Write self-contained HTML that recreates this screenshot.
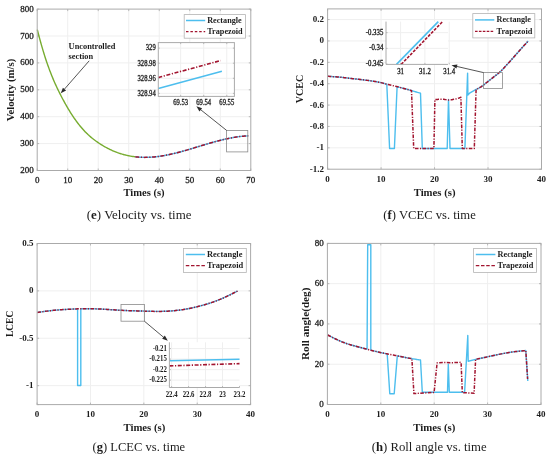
<!DOCTYPE html>
<html><head><meta charset="utf-8"><style>
html,body{margin:0;padding:0;background:#ffffff;}
svg{display:block;font-family:"Liberation Serif",serif;filter:blur(0.35px);}
</style></head><body>
<svg width="550" height="457" viewBox="0 0 550 457">
<rect x="0" y="0" width="550" height="457" fill="#ffffff"/>
<line x1="67.71" y1="9.1" x2="67.71" y2="170.5" stroke="#efefef" stroke-width="1" />
<line x1="98.23" y1="9.1" x2="98.23" y2="170.5" stroke="#efefef" stroke-width="1" />
<line x1="128.74" y1="9.1" x2="128.74" y2="170.5" stroke="#efefef" stroke-width="1" />
<line x1="159.26" y1="9.1" x2="159.26" y2="170.5" stroke="#efefef" stroke-width="1" />
<line x1="189.77" y1="9.1" x2="189.77" y2="170.5" stroke="#efefef" stroke-width="1" />
<line x1="220.29" y1="9.1" x2="220.29" y2="170.5" stroke="#efefef" stroke-width="1" />
<line x1="37.2" y1="143.6" x2="250.8" y2="143.6" stroke="#efefef" stroke-width="1" />
<line x1="37.2" y1="116.7" x2="250.8" y2="116.7" stroke="#efefef" stroke-width="1" />
<line x1="37.2" y1="89.8" x2="250.8" y2="89.8" stroke="#efefef" stroke-width="1" />
<line x1="37.2" y1="62.9" x2="250.8" y2="62.9" stroke="#efefef" stroke-width="1" />
<line x1="37.2" y1="36" x2="250.8" y2="36" stroke="#efefef" stroke-width="1" />
<line x1="37.2" y1="170.5" x2="37.2" y2="168.5" stroke="#aaaaaa" stroke-width="0.8" />
<line x1="37.2" y1="9.1" x2="37.2" y2="11.1" stroke="#aaaaaa" stroke-width="0.8" />
<line x1="67.71" y1="170.5" x2="67.71" y2="168.5" stroke="#aaaaaa" stroke-width="0.8" />
<line x1="67.71" y1="9.1" x2="67.71" y2="11.1" stroke="#aaaaaa" stroke-width="0.8" />
<line x1="98.23" y1="170.5" x2="98.23" y2="168.5" stroke="#aaaaaa" stroke-width="0.8" />
<line x1="98.23" y1="9.1" x2="98.23" y2="11.1" stroke="#aaaaaa" stroke-width="0.8" />
<line x1="128.74" y1="170.5" x2="128.74" y2="168.5" stroke="#aaaaaa" stroke-width="0.8" />
<line x1="128.74" y1="9.1" x2="128.74" y2="11.1" stroke="#aaaaaa" stroke-width="0.8" />
<line x1="159.26" y1="170.5" x2="159.26" y2="168.5" stroke="#aaaaaa" stroke-width="0.8" />
<line x1="159.26" y1="9.1" x2="159.26" y2="11.1" stroke="#aaaaaa" stroke-width="0.8" />
<line x1="189.77" y1="170.5" x2="189.77" y2="168.5" stroke="#aaaaaa" stroke-width="0.8" />
<line x1="189.77" y1="9.1" x2="189.77" y2="11.1" stroke="#aaaaaa" stroke-width="0.8" />
<line x1="220.29" y1="170.5" x2="220.29" y2="168.5" stroke="#aaaaaa" stroke-width="0.8" />
<line x1="220.29" y1="9.1" x2="220.29" y2="11.1" stroke="#aaaaaa" stroke-width="0.8" />
<line x1="250.8" y1="170.5" x2="250.8" y2="168.5" stroke="#aaaaaa" stroke-width="0.8" />
<line x1="250.8" y1="9.1" x2="250.8" y2="11.1" stroke="#aaaaaa" stroke-width="0.8" />
<line x1="37.2" y1="170.5" x2="39.2" y2="170.5" stroke="#aaaaaa" stroke-width="0.8" />
<line x1="250.8" y1="170.5" x2="248.8" y2="170.5" stroke="#aaaaaa" stroke-width="0.8" />
<line x1="37.2" y1="143.6" x2="39.2" y2="143.6" stroke="#aaaaaa" stroke-width="0.8" />
<line x1="250.8" y1="143.6" x2="248.8" y2="143.6" stroke="#aaaaaa" stroke-width="0.8" />
<line x1="37.2" y1="116.7" x2="39.2" y2="116.7" stroke="#aaaaaa" stroke-width="0.8" />
<line x1="250.8" y1="116.7" x2="248.8" y2="116.7" stroke="#aaaaaa" stroke-width="0.8" />
<line x1="37.2" y1="89.8" x2="39.2" y2="89.8" stroke="#aaaaaa" stroke-width="0.8" />
<line x1="250.8" y1="89.8" x2="248.8" y2="89.8" stroke="#aaaaaa" stroke-width="0.8" />
<line x1="37.2" y1="62.9" x2="39.2" y2="62.9" stroke="#aaaaaa" stroke-width="0.8" />
<line x1="250.8" y1="62.9" x2="248.8" y2="62.9" stroke="#aaaaaa" stroke-width="0.8" />
<line x1="37.2" y1="36" x2="39.2" y2="36" stroke="#aaaaaa" stroke-width="0.8" />
<line x1="250.8" y1="36" x2="248.8" y2="36" stroke="#aaaaaa" stroke-width="0.8" />
<line x1="37.2" y1="9.1" x2="39.2" y2="9.1" stroke="#aaaaaa" stroke-width="0.8" />
<line x1="250.8" y1="9.1" x2="248.8" y2="9.1" stroke="#aaaaaa" stroke-width="0.8" />
<text x="37.2" y="182.7" font-size="9" text-anchor="middle" font-weight="normal" fill="#1c1c1c" stroke="#1c1c1c" stroke-width="0.3">0</text>
<text x="67.71" y="182.7" font-size="9" text-anchor="middle" font-weight="normal" fill="#1c1c1c" stroke="#1c1c1c" stroke-width="0.3">10</text>
<text x="98.23" y="182.7" font-size="9" text-anchor="middle" font-weight="normal" fill="#1c1c1c" stroke="#1c1c1c" stroke-width="0.3">20</text>
<text x="128.74" y="182.7" font-size="9" text-anchor="middle" font-weight="normal" fill="#1c1c1c" stroke="#1c1c1c" stroke-width="0.3">30</text>
<text x="159.26" y="182.7" font-size="9" text-anchor="middle" font-weight="normal" fill="#1c1c1c" stroke="#1c1c1c" stroke-width="0.3">40</text>
<text x="189.77" y="182.7" font-size="9" text-anchor="middle" font-weight="normal" fill="#1c1c1c" stroke="#1c1c1c" stroke-width="0.3">50</text>
<text x="220.29" y="182.7" font-size="9" text-anchor="middle" font-weight="normal" fill="#1c1c1c" stroke="#1c1c1c" stroke-width="0.3">60</text>
<text x="250.8" y="182.7" font-size="9" text-anchor="middle" font-weight="normal" fill="#1c1c1c" stroke="#1c1c1c" stroke-width="0.3">70</text>
<text x="33.7" y="173" font-size="9" text-anchor="end" font-weight="normal" fill="#1c1c1c" stroke="#1c1c1c" stroke-width="0.3">200</text>
<text x="33.7" y="146.1" font-size="9" text-anchor="end" font-weight="normal" fill="#1c1c1c" stroke="#1c1c1c" stroke-width="0.3">300</text>
<text x="33.7" y="119.2" font-size="9" text-anchor="end" font-weight="normal" fill="#1c1c1c" stroke="#1c1c1c" stroke-width="0.3">400</text>
<text x="33.7" y="92.3" font-size="9" text-anchor="end" font-weight="normal" fill="#1c1c1c" stroke="#1c1c1c" stroke-width="0.3">500</text>
<text x="33.7" y="65.4" font-size="9" text-anchor="end" font-weight="normal" fill="#1c1c1c" stroke="#1c1c1c" stroke-width="0.3">600</text>
<text x="33.7" y="38.5" font-size="9" text-anchor="end" font-weight="normal" fill="#1c1c1c" stroke="#1c1c1c" stroke-width="0.3">700</text>
<text x="33.7" y="11.6" font-size="9" text-anchor="end" font-weight="normal" fill="#1c1c1c" stroke="#1c1c1c" stroke-width="0.3">800</text>
<polyline points="37.3,29.7 37.96,32.26 38.62,34.78 39.27,37.25 39.93,39.67 40.59,42.05 41.25,44.38 41.9,46.67 42.56,48.92 43.22,51.11 43.88,53.27 44.53,55.37 45.19,57.44 45.85,59.45 46.51,61.43 47.17,63.36 47.82,65.24 48.48,67.08 49.14,68.88 49.8,70.64 50.45,72.36 51.11,74.04 51.77,75.69 52.43,77.3 53.09,78.88 53.74,80.43 54.4,81.94 55.06,83.43 55.72,84.89 56.37,86.32 57.03,87.73 57.69,89.11 58.35,90.47 59,91.81 59.66,93.13 60.32,94.43 60.98,95.72 61.64,96.99 62.29,98.24 62.95,99.48 63.61,100.7 64.27,101.91 64.92,103.09 65.58,104.27 66.24,105.43 66.9,106.57 67.56,107.69 68.21,108.8 68.87,109.89 69.53,110.97 70.19,112.03 70.84,113.07 71.5,114.1 72.16,115.11 72.82,116.11 73.47,117.09 74.13,118.05 74.79,119 75.45,119.93 76.11,120.84 76.76,121.74 77.42,122.62 78.08,123.48 78.74,124.33 79.39,125.16 80.05,125.98 80.71,126.77 81.37,127.56 82.02,128.32 82.68,129.07 83.34,129.8 84,130.52 84.66,131.22 85.31,131.9 85.97,132.57 86.63,133.22 87.29,133.86 87.94,134.49 88.6,135.1 89.26,135.69 89.92,136.28 90.58,136.85 91.23,137.41 91.89,137.95 92.55,138.49 93.21,139.01 93.86,139.52 94.52,140.03 95.18,140.52 95.84,141 96.49,141.47 97.15,141.94 97.81,142.39 98.47,142.84 99.13,143.28 99.78,143.71 100.44,144.14 101.1,144.55 101.76,144.96 102.41,145.36 103.07,145.76 103.73,146.15 104.39,146.52 105.04,146.9 105.7,147.26 106.36,147.62 107.02,147.97 107.68,148.31 108.33,148.65 108.99,148.98 109.65,149.3 110.31,149.62 110.96,149.93 111.62,150.23 112.28,150.52 112.94,150.81 113.6,151.09 114.25,151.36 114.91,151.63 115.57,151.89 116.23,152.15 116.88,152.39 117.54,152.64 118.2,152.87 118.86,153.1 119.51,153.32 120.17,153.54 120.83,153.74 121.49,153.95 122.15,154.14 122.8,154.33 123.46,154.52 124.12,154.7 124.78,154.87 125.43,155.03 126.09,155.19 126.75,155.35 127.41,155.49 128.07,155.64 128.72,155.77 129.38,155.9 130.04,156.03 130.7,156.14 131.35,156.26 132.01,156.36 132.67,156.47 133.33,156.56 133.98,156.65 134.64,156.74 135.3,156.82" fill="none" stroke="#77AC30" stroke-width="1.4" stroke-linejoin="round" />
<polyline points="135.3,156.82 136.25,156.92 137.2,157.01 138.15,157.1 139.1,157.17 140.05,157.23 141,157.28 141.95,157.32 142.9,157.35 143.85,157.37 144.8,157.38 145.75,157.37 146.69,157.36 147.64,157.34 148.59,157.31 149.54,157.27 150.49,157.22 151.44,157.16 152.39,157.09 153.34,157.01 154.29,156.93 155.24,156.83 156.19,156.73 157.14,156.62 158.09,156.5 159.04,156.37 159.99,156.24 160.94,156.1 161.89,155.95 162.84,155.79 163.79,155.63 164.74,155.46 165.69,155.28 166.64,155.1 167.59,154.91 168.54,154.72 169.48,154.52 170.43,154.31 171.38,154.1 172.33,153.88 173.28,153.66 174.23,153.43 175.18,153.2 176.13,152.97 177.08,152.73 178.03,152.48 178.98,152.24 179.93,151.98 180.88,151.73 181.83,151.47 182.78,151.21 183.73,150.94 184.68,150.68 185.63,150.41 186.58,150.13 187.53,149.86 188.48,149.58 189.43,149.3 190.38,149.02 191.33,148.74 192.27,148.45 193.22,148.17 194.17,147.88 195.12,147.59 196.07,147.31 197.02,147.02 197.97,146.73 198.92,146.44 199.87,146.15 200.82,145.87 201.77,145.58 202.72,145.29 203.67,145.01 204.62,144.72 205.57,144.44 206.52,144.15 207.47,143.87 208.42,143.59 209.37,143.32 210.32,143.04 211.27,142.77 212.22,142.5 213.17,142.23 214.12,141.96 215.06,141.7 216.01,141.44 216.96,141.19 217.91,140.94 218.86,140.69 219.81,140.44 220.76,140.2 221.71,139.97 222.66,139.74 223.61,139.51 224.56,139.29 225.51,139.07 226.46,138.86 227.41,138.65 228.36,138.45 229.31,138.26 230.26,138.07 231.21,137.89 232.16,137.71 233.11,137.54 234.06,137.38 235.01,137.22 235.96,137.07 236.91,136.93 237.85,136.79 238.8,136.67 239.75,136.55 240.7,136.43 241.65,136.33 242.6,136.24 243.55,136.15 244.5,136.07 245.45,136 246.4,135.94 247.35,135.89 248.3,135.85" fill="none" stroke="#4DBEEE" stroke-width="1.4" stroke-linejoin="round" />
<polyline points="135.3,156.82 136.25,156.92 137.2,157.01 138.15,157.1 139.1,157.17 140.05,157.23 141,157.28 141.95,157.32 142.9,157.35 143.85,157.37 144.8,157.38 145.75,157.37 146.69,157.36 147.64,157.34 148.59,157.31 149.54,157.27 150.49,157.22 151.44,157.16 152.39,157.09 153.34,157.01 154.29,156.93 155.24,156.83 156.19,156.73 157.14,156.62 158.09,156.5 159.04,156.37 159.99,156.24 160.94,156.1 161.89,155.95 162.84,155.79 163.79,155.63 164.74,155.46 165.69,155.28 166.64,155.1 167.59,154.91 168.54,154.72 169.48,154.52 170.43,154.31 171.38,154.1 172.33,153.88 173.28,153.66 174.23,153.43 175.18,153.2 176.13,152.97 177.08,152.73 178.03,152.48 178.98,152.24 179.93,151.98 180.88,151.73 181.83,151.47 182.78,151.21 183.73,150.94 184.68,150.68 185.63,150.41 186.58,150.13 187.53,149.86 188.48,149.58 189.43,149.3 190.38,149.02 191.33,148.74 192.27,148.45 193.22,148.17 194.17,147.88 195.12,147.59 196.07,147.31 197.02,147.02 197.97,146.73 198.92,146.44 199.87,146.15 200.82,145.87 201.77,145.58 202.72,145.29 203.67,145.01 204.62,144.72 205.57,144.44 206.52,144.15 207.47,143.87 208.42,143.59 209.37,143.32 210.32,143.04 211.27,142.77 212.22,142.5 213.17,142.23 214.12,141.96 215.06,141.7 216.01,141.44 216.96,141.19 217.91,140.94 218.86,140.69 219.81,140.44 220.76,140.2 221.71,139.97 222.66,139.74 223.61,139.51 224.56,139.29 225.51,139.07 226.46,138.86 227.41,138.65 228.36,138.45 229.31,138.26 230.26,138.07 231.21,137.89 232.16,137.71 233.11,137.54 234.06,137.38 235.01,137.22 235.96,137.07 236.91,136.93 237.85,136.79 238.8,136.67 239.75,136.55 240.7,136.43 241.65,136.33 242.6,136.24 243.55,136.15 244.5,136.07 245.45,136 246.4,135.94 247.35,135.89 248.3,135.85" fill="none" stroke="#A2142F" stroke-width="1.5" stroke-linejoin="round" stroke-dasharray="4 1.6 1.2 1.6" />
<rect x="37.2" y="9.1" width="213.6" height="161.4" fill="none" stroke="#aaaaaa" stroke-width="1" />
<rect x="226.6" y="130.4" width="21.2" height="21.5" fill="none" stroke="#8a8a8a" stroke-width="0.8" />
<line x1="226.6" y1="130.4" x2="200.39" y2="109.48" stroke="#2a2a2a" stroke-width="0.8" />
<polygon points="196.4,106.3 202.09,108.15 199.47,111.43" fill="#2a2a2a"/>
<text x="68.6" y="49.3" font-size="8.6" text-anchor="start" font-weight="bold" fill="#1c1c1c" textLength="46.8" lengthAdjust="spacingAndGlyphs" >Uncontrolled</text>
<text x="68.6" y="58.9" font-size="8.6" text-anchor="start" font-weight="bold" fill="#1c1c1c" textLength="24.6" lengthAdjust="spacingAndGlyphs" >section</text>
<line x1="89.2" y1="60.8" x2="64.16" y2="89.46" stroke="#2a2a2a" stroke-width="0.8" />
<polygon points="60.8,93.3 62.9,87.7 66.07,90.46" fill="#2a2a2a"/>
<rect x="184.2" y="14.6" width="61.3" height="23.6" fill="#ffffff" stroke="#b4b4b4" stroke-width="0.8" />
<line x1="186" y1="20.5" x2="205.2" y2="20.5" stroke="#4DBEEE" stroke-width="1.5" />
<line x1="186" y1="31.6" x2="205.2" y2="31.6" stroke="#A2142F" stroke-width="1.3" stroke-dasharray="2.5 1.9"/>
<text x="207.2" y="22.8" font-size="9" text-anchor="start" font-weight="bold" fill="#1c1c1c" textLength="34.5" lengthAdjust="spacingAndGlyphs" >Rectangle</text>
<text x="207.2" y="33.9" font-size="9" text-anchor="start" font-weight="bold" fill="#1c1c1c" textLength="35.5" lengthAdjust="spacingAndGlyphs" >Trapezoid</text>
<rect x="158.3" y="42.6" width="76.1" height="53.8" fill="#ffffff"/>
<line x1="180.67" y1="42.6" x2="180.67" y2="96.4" stroke="#efefef" stroke-width="1" />
<line x1="203.73" y1="42.6" x2="203.73" y2="96.4" stroke="#efefef" stroke-width="1" />
<line x1="226.79" y1="42.6" x2="226.79" y2="96.4" stroke="#efefef" stroke-width="1" />
<line x1="158.3" y1="93.38" x2="234.4" y2="93.38" stroke="#efefef" stroke-width="1" />
<line x1="158.3" y1="78.29" x2="234.4" y2="78.29" stroke="#efefef" stroke-width="1" />
<line x1="158.3" y1="63.2" x2="234.4" y2="63.2" stroke="#efefef" stroke-width="1" />
<line x1="158.3" y1="48.11" x2="234.4" y2="48.11" stroke="#efefef" stroke-width="1" />
<line x1="180.67" y1="96.4" x2="180.67" y2="94.9" stroke="#aaaaaa" stroke-width="0.8" />
<line x1="180.67" y1="42.6" x2="180.67" y2="44.1" stroke="#aaaaaa" stroke-width="0.8" />
<line x1="203.73" y1="96.4" x2="203.73" y2="94.9" stroke="#aaaaaa" stroke-width="0.8" />
<line x1="203.73" y1="42.6" x2="203.73" y2="44.1" stroke="#aaaaaa" stroke-width="0.8" />
<line x1="226.79" y1="96.4" x2="226.79" y2="94.9" stroke="#aaaaaa" stroke-width="0.8" />
<line x1="226.79" y1="42.6" x2="226.79" y2="44.1" stroke="#aaaaaa" stroke-width="0.8" />
<line x1="158.3" y1="93.38" x2="159.8" y2="93.38" stroke="#aaaaaa" stroke-width="0.8" />
<line x1="234.4" y1="93.38" x2="232.9" y2="93.38" stroke="#aaaaaa" stroke-width="0.8" />
<line x1="158.3" y1="78.29" x2="159.8" y2="78.29" stroke="#aaaaaa" stroke-width="0.8" />
<line x1="234.4" y1="78.29" x2="232.9" y2="78.29" stroke="#aaaaaa" stroke-width="0.8" />
<line x1="158.3" y1="63.2" x2="159.8" y2="63.2" stroke="#aaaaaa" stroke-width="0.8" />
<line x1="234.4" y1="63.2" x2="232.9" y2="63.2" stroke="#aaaaaa" stroke-width="0.8" />
<line x1="158.3" y1="48.11" x2="159.8" y2="48.11" stroke="#aaaaaa" stroke-width="0.8" />
<line x1="234.4" y1="48.11" x2="232.9" y2="48.11" stroke="#aaaaaa" stroke-width="0.8" />
<text x="180.67" y="104.9" font-size="7.39" text-anchor="middle" font-weight="normal" fill="#1c1c1c" textLength="14.85" lengthAdjust="spacingAndGlyphs" stroke="#1c1c1c" stroke-width="0.3">69.53</text>
<text x="203.73" y="104.9" font-size="7.39" text-anchor="middle" font-weight="normal" fill="#1c1c1c" textLength="14.85" lengthAdjust="spacingAndGlyphs" stroke="#1c1c1c" stroke-width="0.3">69.54</text>
<text x="226.79" y="104.9" font-size="7.39" text-anchor="middle" font-weight="normal" fill="#1c1c1c" textLength="14.85" lengthAdjust="spacingAndGlyphs" stroke="#1c1c1c" stroke-width="0.3">69.55</text>
<text x="155.7" y="95.68" font-size="7.39" text-anchor="end" font-weight="normal" fill="#1c1c1c" textLength="18.15" lengthAdjust="spacingAndGlyphs" stroke="#1c1c1c" stroke-width="0.3">328.94</text>
<text x="155.7" y="80.59" font-size="7.39" text-anchor="end" font-weight="normal" fill="#1c1c1c" textLength="18.15" lengthAdjust="spacingAndGlyphs" stroke="#1c1c1c" stroke-width="0.3">328.96</text>
<text x="155.7" y="65.5" font-size="7.39" text-anchor="end" font-weight="normal" fill="#1c1c1c" textLength="18.15" lengthAdjust="spacingAndGlyphs" stroke="#1c1c1c" stroke-width="0.3">328.98</text>
<text x="155.7" y="50.41" font-size="7.39" text-anchor="end" font-weight="normal" fill="#1c1c1c" textLength="9.9" lengthAdjust="spacingAndGlyphs" stroke="#1c1c1c" stroke-width="0.3">329</text>
<line x1="158.3" y1="88.5" x2="221.9" y2="71.2" stroke="#4DBEEE" stroke-width="1.5" />
<line x1="158.3" y1="77.5" x2="220.6" y2="60.6" stroke="#A2142F" stroke-width="1.6" stroke-dasharray="4 1.6 1.2 1.6"/>
<rect x="158.3" y="42.6" width="76.1" height="53.8" fill="none" stroke="#aaaaaa" stroke-width="1" />
<text x="13.7" y="90" font-size="10.8" text-anchor="middle" font-weight="bold" fill="#1c1c1c" textLength="62.7" lengthAdjust="spacingAndGlyphs" transform="rotate(-90 13.7 90)" >Velocity (m/s)</text>
<text x="144" y="196.3" font-size="10.8" text-anchor="middle" font-weight="bold" fill="#1c1c1c" textLength="41.2" lengthAdjust="spacingAndGlyphs" >Times (s)</text>
<text x="86.8" y="219" font-size="12.5" fill="#1c1c1c" textLength="104.7" lengthAdjust="spacingAndGlyphs">(<tspan font-weight="bold">e</tspan>) Velocity vs. time</text>
<line x1="381.08" y1="8.9" x2="381.08" y2="169.2" stroke="#efefef" stroke-width="1" />
<line x1="434.55" y1="8.9" x2="434.55" y2="169.2" stroke="#efefef" stroke-width="1" />
<line x1="488.02" y1="8.9" x2="488.02" y2="169.2" stroke="#efefef" stroke-width="1" />
<line x1="327.6" y1="147.83" x2="541.5" y2="147.83" stroke="#efefef" stroke-width="1" />
<line x1="327.6" y1="126.45" x2="541.5" y2="126.45" stroke="#efefef" stroke-width="1" />
<line x1="327.6" y1="105.08" x2="541.5" y2="105.08" stroke="#efefef" stroke-width="1" />
<line x1="327.6" y1="83.71" x2="541.5" y2="83.71" stroke="#efefef" stroke-width="1" />
<line x1="327.6" y1="62.33" x2="541.5" y2="62.33" stroke="#efefef" stroke-width="1" />
<line x1="327.6" y1="40.96" x2="541.5" y2="40.96" stroke="#efefef" stroke-width="1" />
<line x1="327.6" y1="19.59" x2="541.5" y2="19.59" stroke="#efefef" stroke-width="1" />
<line x1="327.6" y1="169.2" x2="327.6" y2="167.2" stroke="#aaaaaa" stroke-width="0.8" />
<line x1="327.6" y1="8.9" x2="327.6" y2="10.9" stroke="#aaaaaa" stroke-width="0.8" />
<line x1="381.08" y1="169.2" x2="381.08" y2="167.2" stroke="#aaaaaa" stroke-width="0.8" />
<line x1="381.08" y1="8.9" x2="381.08" y2="10.9" stroke="#aaaaaa" stroke-width="0.8" />
<line x1="434.55" y1="169.2" x2="434.55" y2="167.2" stroke="#aaaaaa" stroke-width="0.8" />
<line x1="434.55" y1="8.9" x2="434.55" y2="10.9" stroke="#aaaaaa" stroke-width="0.8" />
<line x1="488.02" y1="169.2" x2="488.02" y2="167.2" stroke="#aaaaaa" stroke-width="0.8" />
<line x1="488.02" y1="8.9" x2="488.02" y2="10.9" stroke="#aaaaaa" stroke-width="0.8" />
<line x1="541.5" y1="169.2" x2="541.5" y2="167.2" stroke="#aaaaaa" stroke-width="0.8" />
<line x1="541.5" y1="8.9" x2="541.5" y2="10.9" stroke="#aaaaaa" stroke-width="0.8" />
<line x1="327.6" y1="169.2" x2="329.6" y2="169.2" stroke="#aaaaaa" stroke-width="0.8" />
<line x1="541.5" y1="169.2" x2="539.5" y2="169.2" stroke="#aaaaaa" stroke-width="0.8" />
<line x1="327.6" y1="147.83" x2="329.6" y2="147.83" stroke="#aaaaaa" stroke-width="0.8" />
<line x1="541.5" y1="147.83" x2="539.5" y2="147.83" stroke="#aaaaaa" stroke-width="0.8" />
<line x1="327.6" y1="126.45" x2="329.6" y2="126.45" stroke="#aaaaaa" stroke-width="0.8" />
<line x1="541.5" y1="126.45" x2="539.5" y2="126.45" stroke="#aaaaaa" stroke-width="0.8" />
<line x1="327.6" y1="105.08" x2="329.6" y2="105.08" stroke="#aaaaaa" stroke-width="0.8" />
<line x1="541.5" y1="105.08" x2="539.5" y2="105.08" stroke="#aaaaaa" stroke-width="0.8" />
<line x1="327.6" y1="83.71" x2="329.6" y2="83.71" stroke="#aaaaaa" stroke-width="0.8" />
<line x1="541.5" y1="83.71" x2="539.5" y2="83.71" stroke="#aaaaaa" stroke-width="0.8" />
<line x1="327.6" y1="62.33" x2="329.6" y2="62.33" stroke="#aaaaaa" stroke-width="0.8" />
<line x1="541.5" y1="62.33" x2="539.5" y2="62.33" stroke="#aaaaaa" stroke-width="0.8" />
<line x1="327.6" y1="40.96" x2="329.6" y2="40.96" stroke="#aaaaaa" stroke-width="0.8" />
<line x1="541.5" y1="40.96" x2="539.5" y2="40.96" stroke="#aaaaaa" stroke-width="0.8" />
<line x1="327.6" y1="19.59" x2="329.6" y2="19.59" stroke="#aaaaaa" stroke-width="0.8" />
<line x1="541.5" y1="19.59" x2="539.5" y2="19.59" stroke="#aaaaaa" stroke-width="0.8" />
<text x="327.6" y="181.9" font-size="9" text-anchor="middle" font-weight="bold" fill="#1c1c1c" >0</text>
<text x="381.08" y="181.9" font-size="9" text-anchor="middle" font-weight="bold" fill="#1c1c1c" >10</text>
<text x="434.55" y="181.9" font-size="9" text-anchor="middle" font-weight="bold" fill="#1c1c1c" >20</text>
<text x="488.02" y="181.9" font-size="9" text-anchor="middle" font-weight="bold" fill="#1c1c1c" >30</text>
<text x="541.5" y="181.9" font-size="9" text-anchor="middle" font-weight="bold" fill="#1c1c1c" >40</text>
<text x="324" y="171.7" font-size="9" text-anchor="end" font-weight="bold" fill="#1c1c1c" >-1.2</text>
<text x="324" y="150.33" font-size="9" text-anchor="end" font-weight="bold" fill="#1c1c1c" >-1</text>
<text x="324" y="128.95" font-size="9" text-anchor="end" font-weight="bold" fill="#1c1c1c" >-0.8</text>
<text x="324" y="107.58" font-size="9" text-anchor="end" font-weight="bold" fill="#1c1c1c" >-0.6</text>
<text x="324" y="86.21" font-size="9" text-anchor="end" font-weight="bold" fill="#1c1c1c" >-0.4</text>
<text x="324" y="64.83" font-size="9" text-anchor="end" font-weight="bold" fill="#1c1c1c" >-0.2</text>
<text x="324" y="43.46" font-size="9" text-anchor="end" font-weight="bold" fill="#1c1c1c" >0</text>
<text x="324" y="22.09" font-size="9" text-anchor="end" font-weight="bold" fill="#1c1c1c" >0.2</text>
<polyline points="327.7,76.3 328.74,76.36 329.79,76.42 330.83,76.48 331.87,76.55 332.91,76.63 333.96,76.7 335,76.78 336.04,76.86 337.08,76.95 338.13,77.04 339.17,77.13 340.21,77.22 341.26,77.32 342.3,77.42 343.34,77.54 344.38,77.65 345.43,77.77 346.47,77.9 347.51,78.02 348.55,78.15 349.6,78.28 350.64,78.4 351.68,78.53 352.72,78.65 353.77,78.77 354.81,78.88 355.85,79 356.9,79.12 357.94,79.23 358.98,79.35 360.02,79.47 361.07,79.59 362.11,79.71 363.15,79.84 364.19,79.97 365.24,80.1 366.28,80.24 367.32,80.38 368.37,80.52 369.41,80.66 370.45,80.8 371.49,80.95 372.54,81.11 373.58,81.26 374.62,81.43 375.66,81.6 376.71,81.78 377.75,81.96 378.79,82.16 379.83,82.37 380.88,82.61 381.92,82.87 382.96,83.15 384.01,83.44 385.05,83.73 386.09,84.02 386.8,84.2 389.6,148.5 394.4,148.5 397.1,86.68 397.56,86.79 398.6,87.06 399.65,87.33 400.69,87.61 401.73,87.89 402.77,88.17 403.82,88.45 404.86,88.73 405.9,89.02 406.94,89.3 407.99,89.59 409.03,89.88 410.07,90.18 411.12,90.48 412.16,90.79 413.2,91.11 414.24,91.43 415.29,91.74 416.33,92.04 417.37,92.34 418.41,92.63 419.46,92.92 420.5,93.2 420.5,93.2 422.3,148.5 447.2,148.5 448.5,99.4 450,148.5 464.9,148.5 467.6,73.1 467.9,95 470,92.8 476.1,89.3 476.98,88.97 477.87,88.59 478.75,88.17 479.63,87.7 480.52,87.2 481.4,86.61 482.28,85.97 483.16,85.28 484.05,84.58 484.93,83.88 485.81,83.21 486.7,82.52 487.58,81.83 488.46,81.13 489.35,80.42 490.23,79.72 491.11,79.01 491.99,78.3 492.88,77.61 493.76,76.93 494.64,76.25 495.53,75.58 496.41,74.9 497.29,74.2 498.18,73.49 499.06,72.76 499.94,71.99 500.83,71.19 501.71,70.34 502.59,69.44 503.47,68.51 504.36,67.55 505.24,66.57 506.12,65.58 507.01,64.6 507.89,63.62 508.77,62.65 509.66,61.67 510.54,60.68 511.42,59.68 512.31,58.68 513.19,57.68 514.07,56.68 514.95,55.68 515.84,54.68 516.72,53.69 517.6,52.7 518.49,51.71 519.37,50.73 520.25,49.74 521.14,48.76 522.02,47.78 522.9,46.8 523.78,45.83 524.67,44.86 525.55,43.89 526.43,42.92 527.32,41.96 528.2,41" fill="none" stroke="#4DBEEE" stroke-width="1.4" stroke-linejoin="round" />
<polyline points="327.7,76.3 328.74,76.36 329.79,76.42 330.83,76.48 331.87,76.55 332.91,76.63 333.96,76.7 335,76.78 336.04,76.86 337.08,76.95 338.13,77.04 339.17,77.13 340.21,77.22 341.26,77.32 342.3,77.42 343.34,77.54 344.38,77.65 345.43,77.77 346.47,77.9 347.51,78.02 348.55,78.15 349.6,78.28 350.64,78.4 351.68,78.53 352.72,78.65 353.77,78.77 354.81,78.88 355.85,79 356.9,79.12 357.94,79.23 358.98,79.35 360.02,79.47 361.07,79.59 362.11,79.71 363.15,79.84 364.19,79.97 365.24,80.1 366.28,80.24 367.32,80.38 368.37,80.52 369.41,80.66 370.45,80.8 371.49,80.95 372.54,81.11 373.58,81.26 374.62,81.43 375.66,81.6 376.71,81.78 377.75,81.96 378.79,82.16 379.83,82.37 380.88,82.61 381.92,82.87 382.96,83.15 384.01,83.44 385.05,83.73 386.09,84.02 387.13,84.28 388.18,84.54 389.22,84.79 390.26,85.04 391.3,85.28 392.35,85.53 393.39,85.77 394.43,86.02 395.48,86.27 396.52,86.53 397.56,86.79 398.6,87.06 399.65,87.33 400.69,87.61 401.73,87.89 402.77,88.17 403.82,88.45 404.86,88.73 405.9,89.02 406.94,89.3 407.99,89.59 409.03,89.88 410.07,90.18 411.12,90.48 411.5,90.6 413.7,148.5 433.9,148.5 434.9,99.6 435.8,99.5 436.69,99.42 437.59,99.38 438.49,99.36 439.38,99.34 440.28,99.32 441.18,99.31 442.07,99.3 442.97,99.3 443.87,99.35 444.76,99.47 445.66,99.63 446.56,99.8 447.45,99.93 448.35,100 449.24,99.98 450.14,99.92 451.04,99.81 451.93,99.68 452.83,99.52 453.73,99.35 454.62,99.17 455.52,98.99 456.42,98.78 457.31,98.53 458.21,98.26 459.11,97.96 460,97.64 460.9,97.3 462.3,148.5 474.3,148.5 476.1,89.3 476.1,89.3 476.98,88.97 477.87,88.59 478.75,88.17 479.63,87.7 480.52,87.2 481.4,86.61 482.28,85.97 483.16,85.28 484.05,84.58 484.93,83.88 485.81,83.21 486.7,82.52 487.58,81.83 488.46,81.13 489.35,80.42 490.23,79.72 491.11,79.01 491.99,78.3 492.88,77.61 493.76,76.93 494.64,76.25 495.53,75.58 496.41,74.9 497.29,74.2 498.18,73.49 499.06,72.76 499.94,71.99 500.83,71.19 501.71,70.34 502.59,69.44 503.47,68.51 504.36,67.55 505.24,66.57 506.12,65.58 507.01,64.6 507.89,63.62 508.77,62.65 509.66,61.67 510.54,60.68 511.42,59.68 512.31,58.68 513.19,57.68 514.07,56.68 514.95,55.68 515.84,54.68 516.72,53.69 517.6,52.7 518.49,51.71 519.37,50.73 520.25,49.74 521.14,48.76 522.02,47.78 522.9,46.8 523.78,45.83 524.67,44.86 525.55,43.89 526.43,42.92 527.32,41.96 528.2,41" fill="none" stroke="#A2142F" stroke-width="1.5" stroke-linejoin="round" stroke-dasharray="3.6 1.4 1.2 1.4" />
<rect x="327.6" y="8.9" width="213.9" height="160.3" fill="none" stroke="#aaaaaa" stroke-width="1" />
<rect x="483.5" y="72.6" width="18.9" height="15.9" fill="none" stroke="#8a8a8a" stroke-width="0.8" />
<line x1="483.5" y1="72.6" x2="456.47" y2="66.35" stroke="#2a2a2a" stroke-width="0.8" />
<polygon points="451.5,65.2 457.43,64.42 456.48,68.51" fill="#2a2a2a"/>
<rect x="472.8" y="13.6" width="62" height="24.3" fill="#ffffff" stroke="#b4b4b4" stroke-width="0.8" />
<line x1="475" y1="19.9" x2="494.3" y2="19.9" stroke="#4DBEEE" stroke-width="1.5" />
<line x1="475" y1="31.4" x2="494.3" y2="31.4" stroke="#A2142F" stroke-width="1.3" stroke-dasharray="2.6 1.3"/>
<text x="496.5" y="22" font-size="9" text-anchor="start" font-weight="bold" fill="#1c1c1c" textLength="34.5" lengthAdjust="spacingAndGlyphs" >Rectangle</text>
<text x="496.5" y="33.5" font-size="9" text-anchor="start" font-weight="bold" fill="#1c1c1c" textLength="35.9" lengthAdjust="spacingAndGlyphs" >Trapezoid</text>
<rect x="386" y="21.6" width="62" height="42.8" fill="#ffffff"/>
<line x1="400.59" y1="21.6" x2="400.59" y2="64.4" stroke="#efefef" stroke-width="1" />
<line x1="424.9" y1="21.6" x2="424.9" y2="64.4" stroke="#efefef" stroke-width="1" />
<line x1="449.22" y1="21.6" x2="449.22" y2="64.4" stroke="#efefef" stroke-width="1" />
<line x1="386" y1="48.39" x2="448" y2="48.39" stroke="#efefef" stroke-width="1" />
<line x1="386" y1="32.68" x2="448" y2="32.68" stroke="#efefef" stroke-width="1" />
<line x1="400.59" y1="64.4" x2="400.59" y2="62.9" stroke="#aaaaaa" stroke-width="0.8" />
<line x1="424.9" y1="64.4" x2="424.9" y2="62.9" stroke="#aaaaaa" stroke-width="0.8" />
<line x1="449.22" y1="64.4" x2="449.22" y2="62.9" stroke="#aaaaaa" stroke-width="0.8" />
<line x1="386" y1="64.09" x2="387.5" y2="64.09" stroke="#aaaaaa" stroke-width="0.8" />
<line x1="386" y1="48.39" x2="387.5" y2="48.39" stroke="#aaaaaa" stroke-width="0.8" />
<line x1="386" y1="32.68" x2="387.5" y2="32.68" stroke="#aaaaaa" stroke-width="0.8" />
<text x="400.59" y="74" font-size="7.62" text-anchor="middle" font-weight="normal" fill="#1c1c1c" textLength="6.8" lengthAdjust="spacingAndGlyphs" stroke="#1c1c1c" stroke-width="0.3">31</text>
<text x="424.9" y="74" font-size="7.62" text-anchor="middle" font-weight="normal" fill="#1c1c1c" textLength="11.9" lengthAdjust="spacingAndGlyphs" stroke="#1c1c1c" stroke-width="0.3">31.2</text>
<text x="449.22" y="74" font-size="7.62" text-anchor="middle" font-weight="normal" fill="#1c1c1c" textLength="11.9" lengthAdjust="spacingAndGlyphs" stroke="#1c1c1c" stroke-width="0.3">31.4</text>
<text x="383.3" y="65.99" font-size="7.62" text-anchor="end" font-weight="normal" fill="#1c1c1c" textLength="17.56" lengthAdjust="spacingAndGlyphs" stroke="#1c1c1c" stroke-width="0.3">-0.345</text>
<text x="383.3" y="50.29" font-size="7.62" text-anchor="end" font-weight="normal" fill="#1c1c1c" textLength="14.16" lengthAdjust="spacingAndGlyphs" stroke="#1c1c1c" stroke-width="0.3">-0.34</text>
<text x="383.3" y="34.58" font-size="7.62" text-anchor="end" font-weight="normal" fill="#1c1c1c" textLength="17.56" lengthAdjust="spacingAndGlyphs" stroke="#1c1c1c" stroke-width="0.3">-0.335</text>
<line x1="396.5" y1="64.4" x2="438.3" y2="21.6" stroke="#4DBEEE" stroke-width="1.6" />
<line x1="401.2" y1="64.4" x2="442.6" y2="21.6" stroke="#A2142F" stroke-width="1.6" stroke-dasharray="3 1.3"/>
<polyline points="386,21.6 386,64.4 448,64.4" fill="none" stroke="#aaaaaa" stroke-width="1"/>
<text x="302.7" y="89" font-size="10.8" text-anchor="middle" font-weight="bold" fill="#1c1c1c" textLength="28.4" lengthAdjust="spacingAndGlyphs" transform="rotate(-90 302.7 89)" >VCEC</text>
<text x="434.6" y="195.9" font-size="10.8" text-anchor="middle" font-weight="bold" fill="#1c1c1c" textLength="41.8" lengthAdjust="spacingAndGlyphs" >Times (s)</text>
<text x="383.3" y="219" font-size="12.5" fill="#1c1c1c" textLength="92.5" lengthAdjust="spacingAndGlyphs">(<tspan font-weight="bold">f</tspan>) VCEC vs. time</text>
<line x1="90.47" y1="243.5" x2="90.47" y2="404.6" stroke="#efefef" stroke-width="1" />
<line x1="143.85" y1="243.5" x2="143.85" y2="404.6" stroke="#efefef" stroke-width="1" />
<line x1="197.22" y1="243.5" x2="197.22" y2="404.6" stroke="#efefef" stroke-width="1" />
<line x1="37.1" y1="385.65" x2="250.6" y2="385.65" stroke="#efefef" stroke-width="1" />
<line x1="37.1" y1="338.26" x2="250.6" y2="338.26" stroke="#efefef" stroke-width="1" />
<line x1="37.1" y1="290.88" x2="250.6" y2="290.88" stroke="#efefef" stroke-width="1" />
<line x1="37.1" y1="404.6" x2="37.1" y2="402.6" stroke="#aaaaaa" stroke-width="0.8" />
<line x1="37.1" y1="243.5" x2="37.1" y2="245.5" stroke="#aaaaaa" stroke-width="0.8" />
<line x1="90.47" y1="404.6" x2="90.47" y2="402.6" stroke="#aaaaaa" stroke-width="0.8" />
<line x1="90.47" y1="243.5" x2="90.47" y2="245.5" stroke="#aaaaaa" stroke-width="0.8" />
<line x1="143.85" y1="404.6" x2="143.85" y2="402.6" stroke="#aaaaaa" stroke-width="0.8" />
<line x1="143.85" y1="243.5" x2="143.85" y2="245.5" stroke="#aaaaaa" stroke-width="0.8" />
<line x1="197.22" y1="404.6" x2="197.22" y2="402.6" stroke="#aaaaaa" stroke-width="0.8" />
<line x1="197.22" y1="243.5" x2="197.22" y2="245.5" stroke="#aaaaaa" stroke-width="0.8" />
<line x1="250.6" y1="404.6" x2="250.6" y2="402.6" stroke="#aaaaaa" stroke-width="0.8" />
<line x1="250.6" y1="243.5" x2="250.6" y2="245.5" stroke="#aaaaaa" stroke-width="0.8" />
<line x1="37.1" y1="404.6" x2="39.1" y2="404.6" stroke="#aaaaaa" stroke-width="0.8" />
<line x1="250.6" y1="404.6" x2="248.6" y2="404.6" stroke="#aaaaaa" stroke-width="0.8" />
<line x1="37.1" y1="385.65" x2="39.1" y2="385.65" stroke="#aaaaaa" stroke-width="0.8" />
<line x1="250.6" y1="385.65" x2="248.6" y2="385.65" stroke="#aaaaaa" stroke-width="0.8" />
<line x1="37.1" y1="338.26" x2="39.1" y2="338.26" stroke="#aaaaaa" stroke-width="0.8" />
<line x1="250.6" y1="338.26" x2="248.6" y2="338.26" stroke="#aaaaaa" stroke-width="0.8" />
<line x1="37.1" y1="290.88" x2="39.1" y2="290.88" stroke="#aaaaaa" stroke-width="0.8" />
<line x1="250.6" y1="290.88" x2="248.6" y2="290.88" stroke="#aaaaaa" stroke-width="0.8" />
<line x1="37.1" y1="243.5" x2="39.1" y2="243.5" stroke="#aaaaaa" stroke-width="0.8" />
<line x1="250.6" y1="243.5" x2="248.6" y2="243.5" stroke="#aaaaaa" stroke-width="0.8" />
<text x="37.1" y="416.8" font-size="9" text-anchor="middle" font-weight="bold" fill="#1c1c1c" >0</text>
<text x="90.47" y="416.8" font-size="9" text-anchor="middle" font-weight="bold" fill="#1c1c1c" >10</text>
<text x="143.85" y="416.8" font-size="9" text-anchor="middle" font-weight="bold" fill="#1c1c1c" >20</text>
<text x="197.22" y="416.8" font-size="9" text-anchor="middle" font-weight="bold" fill="#1c1c1c" >30</text>
<text x="250.6" y="416.8" font-size="9" text-anchor="middle" font-weight="bold" fill="#1c1c1c" >40</text>
<text x="33.5" y="388.15" font-size="9" text-anchor="end" font-weight="bold" fill="#1c1c1c" >-1</text>
<text x="33.5" y="340.76" font-size="9" text-anchor="end" font-weight="bold" fill="#1c1c1c" >-0.5</text>
<text x="33.5" y="293.38" font-size="9" text-anchor="end" font-weight="bold" fill="#1c1c1c" >0</text>
<text x="33.5" y="246" font-size="9" text-anchor="end" font-weight="bold" fill="#1c1c1c" >0.5</text>
<polyline points="37.4,312.4 38.74,312.21 40.09,312.02 41.43,311.84 42.77,311.65 44.12,311.47 45.46,311.3 46.81,311.12 48.15,310.96 49.49,310.79 50.84,310.64 52.18,310.49 53.52,310.35 54.87,310.21 56.21,310.09 57.55,309.97 58.9,309.87 60.24,309.77 61.59,309.67 62.93,309.59 64.27,309.5 65.62,309.43 66.96,309.35 68.3,309.28 69.65,309.22 70.99,309.15 72.33,309.09 73.68,309.03 75.02,308.97 76.37,308.92 77.6,308.88 77.6,385.5 80.8,385.5 80.8,308.78 81.74,308.76 83.08,308.73 84.43,308.72 85.77,308.7 87.11,308.7 88.46,308.7 89.8,308.72 91.14,308.74 92.49,308.76 93.83,308.8 95.18,308.84 96.52,308.89 97.86,308.94 99.21,309 100.55,309.06 101.89,309.13 103.24,309.2 104.58,309.28 105.92,309.35 107.27,309.44 108.61,309.52 109.96,309.61 111.3,309.69 112.64,309.78 113.99,309.87 115.33,309.96 116.67,310.04 118.02,310.12 119.36,310.2 120.7,310.28 122.05,310.35 123.39,310.42 124.74,310.48 126.08,310.54 127.42,310.59 128.77,310.64 130.11,310.69 131.45,310.74 132.8,310.78 134.14,310.82 135.48,310.86 136.83,310.9 138.17,310.94 139.52,310.98 140.86,311.03 142.2,311.07 143.55,311.12 144.89,311.16 146.23,311.2 147.58,311.24 148.92,311.28 150.26,311.32 151.61,311.35 152.95,311.37 154.3,311.39 155.64,311.41 156.98,311.41 158.33,311.41 159.67,311.4 161.01,311.39 162.36,311.36 163.7,311.32 165.04,311.27 166.39,311.21 167.73,311.15 169.08,311.07 170.42,310.98 171.76,310.88 173.11,310.76 174.45,310.64 175.79,310.5 177.14,310.36 178.48,310.2 179.82,310.02 181.17,309.84 182.51,309.64 183.86,309.43 185.2,309.21 186.54,308.97 187.89,308.72 189.23,308.47 190.57,308.2 191.92,307.92 193.26,307.62 194.6,307.32 195.95,307.01 197.29,306.68 198.63,306.35 199.98,306.01 201.32,305.65 202.67,305.29 204.01,304.91 205.35,304.53 206.7,304.13 208.04,303.72 209.38,303.29 210.73,302.85 212.07,302.4 213.41,301.93 214.76,301.45 216.1,300.95 217.45,300.43 218.79,299.9 220.13,299.34 221.48,298.77 222.82,298.19 224.16,297.58 225.51,296.96 226.85,296.33 228.19,295.69 229.54,295.04 230.88,294.38 232.23,293.71 233.57,293.04 234.91,292.36 236.26,291.68 237.6,291" fill="none" stroke="#4DBEEE" stroke-width="1.4" stroke-linejoin="round" />
<polyline points="37.4,312.4 38.74,312.21 40.09,312.02 41.43,311.84 42.77,311.65 44.12,311.47 45.46,311.3 46.81,311.12 48.15,310.96 49.49,310.79 50.84,310.64 52.18,310.49 53.52,310.35 54.87,310.21 56.21,310.09 57.55,309.97 58.9,309.87 60.24,309.77 61.59,309.67 62.93,309.59 64.27,309.5 65.62,309.43 66.96,309.35 68.3,309.28 69.65,309.22 70.99,309.15 72.33,309.09 73.68,309.03 75.02,308.97 76.37,308.92 77.71,308.87 79.05,308.83 80.4,308.79 81.74,308.76 83.08,308.73 84.43,308.72 85.77,308.7 87.11,308.7 88.46,308.7 89.8,308.72 91.14,308.74 92.49,308.76 93.83,308.8 95.18,308.84 96.52,308.89 97.86,308.94 99.21,309 100.55,309.06 101.89,309.13 103.24,309.2 104.58,309.28 105.92,309.35 107.27,309.44 108.61,309.52 109.96,309.61 111.3,309.69 112.64,309.78 113.99,309.87 115.33,309.96 116.67,310.04 118.02,310.12 119.36,310.2 120.7,310.28 122.05,310.35 123.39,310.42 124.74,310.48 126.08,310.54 127.42,310.59 128.77,310.64 130.11,310.69 131.45,310.74 132.8,310.78 134.14,310.82 135.48,310.86 136.83,310.9 138.17,310.94 139.52,310.98 140.86,311.03 142.2,311.07 143.55,311.12 144.89,311.16 146.23,311.2 147.58,311.24 148.92,311.28 150.26,311.32 151.61,311.35 152.95,311.37 154.3,311.39 155.64,311.41 156.98,311.41 158.33,311.41 159.67,311.4 161.01,311.39 162.36,311.36 163.7,311.32 165.04,311.27 166.39,311.21 167.73,311.15 169.08,311.07 170.42,310.98 171.76,310.88 173.11,310.76 174.45,310.64 175.79,310.5 177.14,310.36 178.48,310.2 179.82,310.02 181.17,309.84 182.51,309.64 183.86,309.43 185.2,309.21 186.54,308.97 187.89,308.72 189.23,308.47 190.57,308.2 191.92,307.92 193.26,307.62 194.6,307.32 195.95,307.01 197.29,306.68 198.63,306.35 199.98,306.01 201.32,305.65 202.67,305.29 204.01,304.91 205.35,304.53 206.7,304.13 208.04,303.72 209.38,303.29 210.73,302.85 212.07,302.4 213.41,301.93 214.76,301.45 216.1,300.95 217.45,300.43 218.79,299.9 220.13,299.34 221.48,298.77 222.82,298.19 224.16,297.58 225.51,296.96 226.85,296.33 228.19,295.69 229.54,295.04 230.88,294.38 232.23,293.71 233.57,293.04 234.91,292.36 236.26,291.68 237.6,291" fill="none" stroke="#A2142F" stroke-width="1.5" stroke-linejoin="round" stroke-dasharray="3.6 1.4 1.2 1.4" />
<rect x="37.1" y="243.5" width="213.5" height="161.1" fill="none" stroke="#aaaaaa" stroke-width="1" />
<rect x="121" y="304.4" width="23.4" height="16.8" fill="none" stroke="#8a8a8a" stroke-width="0.8" />
<line x1="144.4" y1="321.2" x2="163.89" y2="337.53" stroke="#2a2a2a" stroke-width="0.8" />
<polygon points="167.8,340.8 162.16,338.81 164.86,335.59" fill="#2a2a2a"/>
<rect x="183.4" y="248.4" width="62.9" height="24" fill="#ffffff" stroke="#b4b4b4" stroke-width="0.8" />
<line x1="185.8" y1="254.5" x2="205" y2="254.5" stroke="#4DBEEE" stroke-width="1.5" />
<line x1="185.8" y1="265.7" x2="205" y2="265.7" stroke="#A2142F" stroke-width="1.3" stroke-dasharray="3.5 1.7"/>
<text x="207" y="256.8" font-size="9" text-anchor="start" font-weight="bold" fill="#1c1c1c" textLength="35.4" lengthAdjust="spacingAndGlyphs" >Rectangle</text>
<text x="207" y="268" font-size="9" text-anchor="start" font-weight="bold" fill="#1c1c1c" textLength="36.3" lengthAdjust="spacingAndGlyphs" >Trapezoid</text>
<rect x="169.4" y="342.3" width="70.1" height="45.2" fill="#ffffff"/>
<line x1="171.61" y1="342.3" x2="171.61" y2="387.5" stroke="#efefef" stroke-width="1" />
<line x1="188.58" y1="342.3" x2="188.58" y2="387.5" stroke="#efefef" stroke-width="1" />
<line x1="205.55" y1="342.3" x2="205.55" y2="387.5" stroke="#efefef" stroke-width="1" />
<line x1="222.53" y1="342.3" x2="222.53" y2="387.5" stroke="#efefef" stroke-width="1" />
<line x1="169.4" y1="380.14" x2="239.5" y2="380.14" stroke="#efefef" stroke-width="1" />
<line x1="169.4" y1="369.63" x2="239.5" y2="369.63" stroke="#efefef" stroke-width="1" />
<line x1="169.4" y1="359.12" x2="239.5" y2="359.12" stroke="#efefef" stroke-width="1" />
<line x1="169.4" y1="348.61" x2="239.5" y2="348.61" stroke="#efefef" stroke-width="1" />
<line x1="171.61" y1="387.5" x2="171.61" y2="386" stroke="#aaaaaa" stroke-width="0.8" />
<line x1="188.58" y1="387.5" x2="188.58" y2="386" stroke="#aaaaaa" stroke-width="0.8" />
<line x1="205.55" y1="387.5" x2="205.55" y2="386" stroke="#aaaaaa" stroke-width="0.8" />
<line x1="222.53" y1="387.5" x2="222.53" y2="386" stroke="#aaaaaa" stroke-width="0.8" />
<line x1="239.5" y1="387.5" x2="239.5" y2="386" stroke="#aaaaaa" stroke-width="0.8" />
<line x1="169.4" y1="380.14" x2="170.9" y2="380.14" stroke="#aaaaaa" stroke-width="0.8" />
<line x1="169.4" y1="369.63" x2="170.9" y2="369.63" stroke="#aaaaaa" stroke-width="0.8" />
<line x1="169.4" y1="359.12" x2="170.9" y2="359.12" stroke="#aaaaaa" stroke-width="0.8" />
<line x1="169.4" y1="348.61" x2="170.9" y2="348.61" stroke="#aaaaaa" stroke-width="0.8" />
<text x="171.61" y="397.3" font-size="7.62" text-anchor="middle" font-weight="bold" fill="#1c1c1c" textLength="11.9" lengthAdjust="spacingAndGlyphs" >22.4</text>
<text x="188.58" y="397.3" font-size="7.62" text-anchor="middle" font-weight="bold" fill="#1c1c1c" textLength="11.9" lengthAdjust="spacingAndGlyphs" >22.6</text>
<text x="205.55" y="397.3" font-size="7.62" text-anchor="middle" font-weight="bold" fill="#1c1c1c" textLength="11.9" lengthAdjust="spacingAndGlyphs" >22.8</text>
<text x="222.53" y="397.3" font-size="7.62" text-anchor="middle" font-weight="bold" fill="#1c1c1c" textLength="6.8" lengthAdjust="spacingAndGlyphs" >23</text>
<text x="239.5" y="397.3" font-size="7.62" text-anchor="middle" font-weight="bold" fill="#1c1c1c" textLength="11.9" lengthAdjust="spacingAndGlyphs" >23.2</text>
<text x="166.8" y="382.04" font-size="7.62" text-anchor="end" font-weight="bold" fill="#1c1c1c" textLength="17.56" lengthAdjust="spacingAndGlyphs" >-0.225</text>
<text x="166.8" y="371.53" font-size="7.62" text-anchor="end" font-weight="bold" fill="#1c1c1c" textLength="14.16" lengthAdjust="spacingAndGlyphs" >-0.22</text>
<text x="166.8" y="361.02" font-size="7.62" text-anchor="end" font-weight="bold" fill="#1c1c1c" textLength="17.56" lengthAdjust="spacingAndGlyphs" >-0.215</text>
<text x="166.8" y="350.51" font-size="7.62" text-anchor="end" font-weight="bold" fill="#1c1c1c" textLength="14.16" lengthAdjust="spacingAndGlyphs" >-0.21</text>
<line x1="169.4" y1="360.8" x2="239.5" y2="359.2" stroke="#4DBEEE" stroke-width="1.6" />
<line x1="169.4" y1="365.9" x2="239.5" y2="363.6" stroke="#A2142F" stroke-width="1.6" stroke-dasharray="4 1.6 1.2 1.6"/>
<polyline points="169.4,342.3 169.4,387.5 239.5,387.5" fill="none" stroke="#aaaaaa" stroke-width="1"/>
<text x="13.2" y="323.9" font-size="10.8" text-anchor="middle" font-weight="bold" fill="#1c1c1c" textLength="26.3" lengthAdjust="spacingAndGlyphs" transform="rotate(-90 13.2 323.9)" >LCEC</text>
<text x="144.4" y="430.7" font-size="10.8" text-anchor="middle" font-weight="bold" fill="#1c1c1c" textLength="41.9" lengthAdjust="spacingAndGlyphs" >Times (s)</text>
<text x="92.6" y="451.3" font-size="12.5" fill="#1c1c1c" textLength="92.6" lengthAdjust="spacingAndGlyphs">(<tspan font-weight="bold">g</tspan>) LCEC vs. time</text>
<line x1="380.8" y1="243.4" x2="380.8" y2="404.5" stroke="#efefef" stroke-width="1" />
<line x1="434.2" y1="243.4" x2="434.2" y2="404.5" stroke="#efefef" stroke-width="1" />
<line x1="487.6" y1="243.4" x2="487.6" y2="404.5" stroke="#efefef" stroke-width="1" />
<line x1="327.4" y1="364.23" x2="541" y2="364.23" stroke="#efefef" stroke-width="1" />
<line x1="327.4" y1="323.95" x2="541" y2="323.95" stroke="#efefef" stroke-width="1" />
<line x1="327.4" y1="283.68" x2="541" y2="283.68" stroke="#efefef" stroke-width="1" />
<line x1="327.4" y1="404.5" x2="327.4" y2="402.5" stroke="#aaaaaa" stroke-width="0.8" />
<line x1="327.4" y1="243.4" x2="327.4" y2="245.4" stroke="#aaaaaa" stroke-width="0.8" />
<line x1="380.8" y1="404.5" x2="380.8" y2="402.5" stroke="#aaaaaa" stroke-width="0.8" />
<line x1="380.8" y1="243.4" x2="380.8" y2="245.4" stroke="#aaaaaa" stroke-width="0.8" />
<line x1="434.2" y1="404.5" x2="434.2" y2="402.5" stroke="#aaaaaa" stroke-width="0.8" />
<line x1="434.2" y1="243.4" x2="434.2" y2="245.4" stroke="#aaaaaa" stroke-width="0.8" />
<line x1="487.6" y1="404.5" x2="487.6" y2="402.5" stroke="#aaaaaa" stroke-width="0.8" />
<line x1="487.6" y1="243.4" x2="487.6" y2="245.4" stroke="#aaaaaa" stroke-width="0.8" />
<line x1="541" y1="404.5" x2="541" y2="402.5" stroke="#aaaaaa" stroke-width="0.8" />
<line x1="541" y1="243.4" x2="541" y2="245.4" stroke="#aaaaaa" stroke-width="0.8" />
<line x1="327.4" y1="404.5" x2="329.4" y2="404.5" stroke="#aaaaaa" stroke-width="0.8" />
<line x1="541" y1="404.5" x2="539" y2="404.5" stroke="#aaaaaa" stroke-width="0.8" />
<line x1="327.4" y1="364.23" x2="329.4" y2="364.23" stroke="#aaaaaa" stroke-width="0.8" />
<line x1="541" y1="364.23" x2="539" y2="364.23" stroke="#aaaaaa" stroke-width="0.8" />
<line x1="327.4" y1="323.95" x2="329.4" y2="323.95" stroke="#aaaaaa" stroke-width="0.8" />
<line x1="541" y1="323.95" x2="539" y2="323.95" stroke="#aaaaaa" stroke-width="0.8" />
<line x1="327.4" y1="283.68" x2="329.4" y2="283.68" stroke="#aaaaaa" stroke-width="0.8" />
<line x1="541" y1="283.68" x2="539" y2="283.68" stroke="#aaaaaa" stroke-width="0.8" />
<line x1="327.4" y1="243.4" x2="329.4" y2="243.4" stroke="#aaaaaa" stroke-width="0.8" />
<line x1="541" y1="243.4" x2="539" y2="243.4" stroke="#aaaaaa" stroke-width="0.8" />
<text x="327.4" y="416.7" font-size="9" text-anchor="middle" font-weight="bold" fill="#1c1c1c" >0</text>
<text x="380.8" y="416.7" font-size="9" text-anchor="middle" font-weight="bold" fill="#1c1c1c" >10</text>
<text x="434.2" y="416.7" font-size="9" text-anchor="middle" font-weight="bold" fill="#1c1c1c" >20</text>
<text x="487.6" y="416.7" font-size="9" text-anchor="middle" font-weight="bold" fill="#1c1c1c" >30</text>
<text x="541" y="416.7" font-size="9" text-anchor="middle" font-weight="bold" fill="#1c1c1c" >40</text>
<text x="323.8" y="407" font-size="9" text-anchor="end" font-weight="normal" fill="#1c1c1c" stroke="#1c1c1c" stroke-width="0.3">0</text>
<text x="323.8" y="366.73" font-size="9" text-anchor="end" font-weight="normal" fill="#1c1c1c" stroke="#1c1c1c" stroke-width="0.3">20</text>
<text x="323.8" y="326.45" font-size="9" text-anchor="end" font-weight="normal" fill="#1c1c1c" stroke="#1c1c1c" stroke-width="0.3">40</text>
<text x="323.8" y="286.18" font-size="9" text-anchor="end" font-weight="normal" fill="#1c1c1c" stroke="#1c1c1c" stroke-width="0.3">60</text>
<text x="323.8" y="245.9" font-size="9" text-anchor="end" font-weight="normal" fill="#1c1c1c" stroke="#1c1c1c" stroke-width="0.3">80</text>
<polyline points="327.7,335 328.64,335.48 329.57,335.96 330.51,336.44 331.45,336.91 332.39,337.38 333.32,337.85 334.26,338.31 335.2,338.77 336.14,339.22 337.07,339.66 338.01,340.09 338.95,340.52 339.89,340.93 340.82,341.33 341.76,341.73 342.7,342.1 343.64,342.47 344.57,342.82 345.51,343.16 346.45,343.48 347.38,343.8 348.32,344.1 349.26,344.39 350.2,344.68 351.13,344.96 352.07,345.23 353.01,345.49 353.95,345.75 354.88,346 355.82,346.25 356.76,346.5 357.7,346.74 358.63,346.98 359.57,347.23 360.51,347.47 361.45,347.71 362.38,347.96 363.32,348.2 364.26,348.45 365.19,348.7 366.13,348.95 367.07,349.19 367.7,244.8 370.8,244.8 370.8,350.17 370.82,350.18 371.76,350.42 372.69,350.66 373.63,350.9 374.57,351.13 375.51,351.36 376.44,351.59 377.38,351.81 378.32,352.03 379.26,352.24 380.19,352.45 381.13,352.66 382.07,352.86 383.01,353.05 383.94,353.25 384.88,353.43 385.82,353.62 386.75,353.8 387.2,353.89 389.8,393.8 394.2,393.8 397.3,355.82 398,355.96 398.94,356.15 399.88,356.34 400.82,356.53 401.75,356.72 402.69,356.91 403.63,357.1 404.56,357.29 405.5,357.48 406.44,357.67 407.38,357.85 408.31,358.04 409.25,358.21 410.19,358.38 411.13,358.55 412.06,358.71 413,358.87 413.94,359.02 414.88,359.17 415.81,359.31 416.75,359.45 417.69,359.59 418.63,359.73 419.56,359.87 420.5,360 422.3,392.2 447.5,392.2 448.3,364.3 449.3,392.2 464.6,392.2 467.8,335.4 468.2,361.3 475.6,359.4 475.6,359.4 476.89,359.12 478.17,358.84 479.46,358.56 480.75,358.28 482.04,358 483.32,357.72 484.61,357.44 485.9,357.16 487.18,356.88 488.47,356.6 489.76,356.32 491.05,356.04 492.33,355.76 493.62,355.48 494.91,355.2 496.19,354.92 497.48,354.65 498.77,354.39 500.06,354.12 501.34,353.87 502.63,353.62 503.92,353.37 505.21,353.14 506.49,352.91 507.78,352.7 509.07,352.49 510.35,352.29 511.64,352.11 512.93,351.93 514.22,351.77 515.5,351.61 516.79,351.45 518.08,351.31 519.36,351.16 520.65,351.03 521.94,350.89 523.23,350.76 524.51,350.63 525.8,350.5 527.8,381" fill="none" stroke="#4DBEEE" stroke-width="1.4" stroke-linejoin="round" />
<polyline points="327.7,335 328.64,335.48 329.57,335.96 330.51,336.44 331.45,336.91 332.39,337.38 333.32,337.85 334.26,338.31 335.2,338.77 336.14,339.22 337.07,339.66 338.01,340.09 338.95,340.52 339.89,340.93 340.82,341.33 341.76,341.73 342.7,342.1 343.64,342.47 344.57,342.82 345.51,343.16 346.45,343.48 347.38,343.8 348.32,344.1 349.26,344.39 350.2,344.68 351.13,344.96 352.07,345.23 353.01,345.49 353.95,345.75 354.88,346 355.82,346.25 356.76,346.5 357.7,346.74 358.63,346.98 359.57,347.23 360.51,347.47 361.45,347.71 362.38,347.96 363.32,348.2 364.26,348.45 365.19,348.7 366.13,348.95 367.07,349.19 368.01,349.44 368.94,349.69 369.88,349.93 370.82,350.18 371.76,350.42 372.69,350.66 373.63,350.9 374.57,351.13 375.51,351.36 376.44,351.59 377.38,351.81 378.32,352.03 379.26,352.24 380.19,352.45 381.13,352.66 382.07,352.86 383.01,353.05 383.94,353.25 384.88,353.43 385.82,353.62 386.75,353.8 387.69,353.99 388.63,354.17 389.57,354.34 390.5,354.52 391.44,354.7 392.38,354.88 393.32,355.05 394.25,355.23 395.19,355.41 396.13,355.59 397.07,355.77 398,355.96 398.94,356.15 399.88,356.34 400.82,356.53 401.75,356.72 402.69,356.91 403.63,357.1 404.56,357.29 405.5,357.48 406.44,357.67 407.38,357.85 408.31,358.04 409.25,358.21 410.19,358.38 411.13,358.55 411.9,358.69 413.9,393.6 434.1,392.4 437.1,362.9 445,362.5 452,362.7 461.1,362.3 462.3,392.6 474.1,393.2 475.6,359.4 475.6,359.4 476.89,359.12 478.17,358.84 479.46,358.56 480.75,358.28 482.04,358 483.32,357.72 484.61,357.44 485.9,357.16 487.18,356.88 488.47,356.6 489.76,356.32 491.05,356.04 492.33,355.76 493.62,355.48 494.91,355.2 496.19,354.92 497.48,354.65 498.77,354.39 500.06,354.12 501.34,353.87 502.63,353.62 503.92,353.37 505.21,353.14 506.49,352.91 507.78,352.7 509.07,352.49 510.35,352.29 511.64,352.11 512.93,351.93 514.22,351.77 515.5,351.61 516.79,351.45 518.08,351.31 519.36,351.16 520.65,351.03 521.94,350.89 523.23,350.76 524.51,350.63 525.8,350.5 527.6,379" fill="none" stroke="#A2142F" stroke-width="1.5" stroke-linejoin="round" stroke-dasharray="3.6 1.4 1.2 1.4" />
<rect x="327.4" y="243.4" width="213.6" height="161.1" fill="none" stroke="#aaaaaa" stroke-width="1" />
<rect x="473.6" y="248.4" width="63" height="24" fill="#ffffff" stroke="#b4b4b4" stroke-width="0.8" />
<line x1="475.8" y1="254.5" x2="495.4" y2="254.5" stroke="#4DBEEE" stroke-width="1.5" />
<line x1="475.8" y1="265.7" x2="495.4" y2="265.7" stroke="#A2142F" stroke-width="1.3" stroke-dasharray="3.5 1.7"/>
<text x="497.5" y="256.7" font-size="9" text-anchor="start" font-weight="bold" fill="#1c1c1c" textLength="34.9" lengthAdjust="spacingAndGlyphs" >Rectangle</text>
<text x="497.5" y="267.9" font-size="9" text-anchor="start" font-weight="bold" fill="#1c1c1c" textLength="35.8" lengthAdjust="spacingAndGlyphs" >Trapezoid</text>
<text x="309.4" y="323.8" font-size="10.8" text-anchor="middle" font-weight="bold" fill="#1c1c1c" textLength="72.4" lengthAdjust="spacingAndGlyphs" transform="rotate(-90 309.4 323.8)" >Roll angle(deg)</text>
<text x="434.3" y="430.9" font-size="10.8" text-anchor="middle" font-weight="bold" fill="#1c1c1c" textLength="42.1" lengthAdjust="spacingAndGlyphs" >Times (s)</text>
<text x="371.7" y="451" font-size="12.5" fill="#1c1c1c" textLength="115" lengthAdjust="spacingAndGlyphs">(<tspan font-weight="bold">h</tspan>) Roll angle vs. time</text>
</svg>
</body></html>
